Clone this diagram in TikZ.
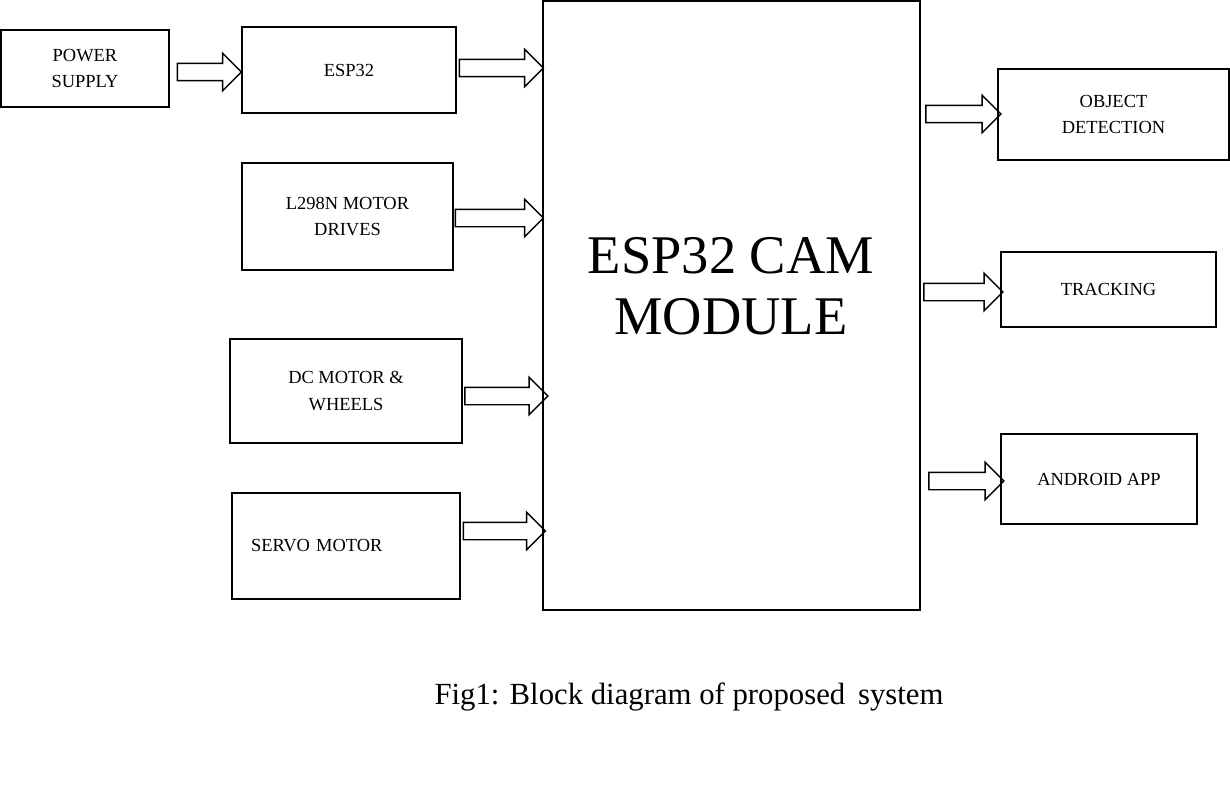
\documentclass[tikz,border=0pt]{standalone}
\usepackage{fontspec}
\setmainfont{Liberation Serif}
\usetikzlibrary{shapes.arrows}
\tikzset{
  blk/.style={draw=black, line width=0.9pt, inner sep=0pt, align=center, font=\fontsize{10.5}{15}\selectfont},
  barrow/.style={single arrow, draw=black, line width=0.8pt, inner sep=0.16cm, single arrow head extend=0.2cm, minimum height=#1}
}
\begin{document}
\begin{tikzpicture}[x=0.02cm, y=-0.02cm]
		\useasboundingbox (0,0) rectangle (1230,794);
		
		% Input blocks
		\node[blk, minimum width=3.36cm, minimum height=1.54cm] (power) at (85,68.5) {POWER\\SUPPLY};
		\node[blk, minimum width=4.28cm, minimum height=1.72cm] (esp) at (349,70) {ESP32};
		\node[blk, minimum width=4.22cm, minimum height=2.14cm] (drv) at (347.5,216.5) {L298N MOTOR\\DRIVES};
		\node[blk, minimum width=4.64cm, minimum height=2.08cm] (dc) at (346,391) {DC MOTOR \&\\WHEELS};
		\node[blk, minimum width=4.56cm, minimum height=2.12cm, text width=3.8cm, align=left] (servo) at (346,546) {SERVO MOTOR};
		
		% Main module
		\node[blk, minimum width=7.54cm, minimum height=12.18cm] (cam) at (731.5,305.5) {};
		\node[font=\fontsize{31}{35}\selectfont, align=center] (camtxt) at (731,286) {ESP32 CAM\\MODULE};
		
		% Output blocks
		\node[blk, minimum width=4.62cm, minimum height=1.82cm] (obj) at (1113.5,114.5) {OBJECT\\DETECTION};
		\node[blk, minimum width=4.3cm, minimum height=1.5cm] (trk) at (1108.5,289.5) {TRACKING};
		\node[blk, minimum width=3.92cm, minimum height=1.8cm] (app) at (1099,479) {ANDROID APP};
		
		% Connect
		\node[barrow=1.28cm] (a1) at (205,72) {};
		\node[barrow=1.68cm] (a2) at (497,68) {};
		\node[barrow=1.76cm] (a3) at (495,218) {};
		\node[barrow=1.66cm] (a4) at (502,396) {};
		\node[barrow=1.64cm] (a5) at (500,531) {};
		\node[barrow=1.5cm] (a6) at (959,114) {};
		\node[barrow=1.58cm] (a7) at (959,292) {};
		\node[barrow=1.5cm] (a8) at (962,481) {};
		
		% Caption
		\node[font=\fontsize{17.5}{20}\selectfont] (cap) at (689,697) {Fig1: Block diagram of proposed\, system};
		
	\end{tikzpicture}
\end{document}
